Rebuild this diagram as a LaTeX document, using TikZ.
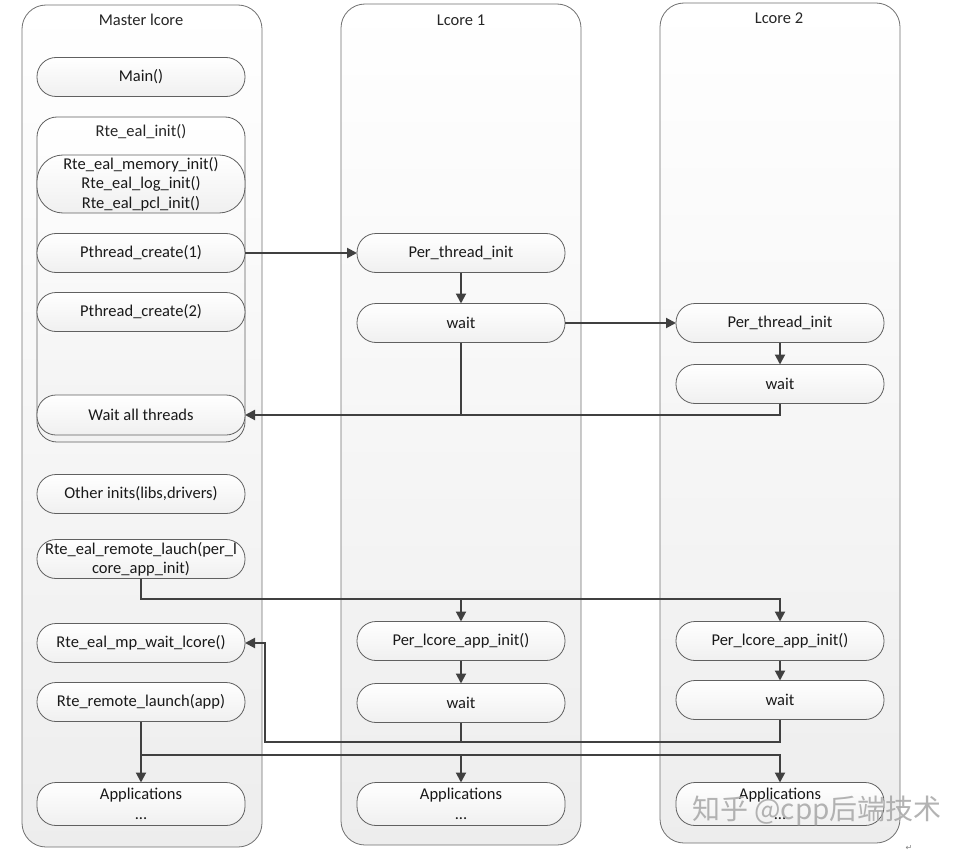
\documentclass[tikz,border=0pt]{standalone}
\usepackage{fontspec}
\setmainfont{Carlito}
\newfontfamily\cjkfont{Noto Sans CJK SC}
\newfontfamily\symfont{DejaVu Sans}
\usetikzlibrary{arrows.meta,calc}
\definecolor{lnc}{HTML}{404040}
\definecolor{brd}{HTML}{606060}
\begin{document}
\begin{tikzpicture}[x=1pt,y=-1pt,
  lane/.style={draw=brd!90,line width=0.8pt,rounded corners=24pt,top color=white,bottom color=black!7},
  lanetitle/.style={font=\fontsize{16.5}{19}\selectfont,text=black!85},
  pill/.style={draw=brd,line width=0.8pt,rectangle,rounded corners=19pt,minimum width=208pt,minimum height=39pt,
     inner sep=1pt,outer sep=0pt,top color=white,bottom color=black!6,align=center,
     font=\fontsize{16.5}{20.5}\selectfont,text=black!90},
  bigbox/.style={draw=brd,line width=0.8pt,rounded corners=20pt,top color=white,bottom color=black!5},
  conn/.style={draw=lnc,line width=2pt,-{Triangle[length=10pt,width=10pt]}},
  plain/.style={draw=lnc,line width=2pt}]
\useasboundingbox (0,0) rectangle (972,856);
\fill[white] (0,0) rectangle (972,856);
% lanes
\draw[lane] (22,5) rectangle (262,847);
\draw[lane] (341,4) rectangle (581,845);
\draw[lane] (660,3) rectangle (900,843);
\node[lanetitle] (tm) at (141,20) {Master lcore};
\node[lanetitle] (t1) at (461,20) {Lcore 1};
\node[lanetitle] (t2) at (779,18) {Lcore 2};
% master column
\node[pill] (main) at (141,77) {Main()};
\draw[bigbox] (37,117) rectangle (245,442);
\node[lanetitle] (rinit) at (141,132) {Rte\_eal\_init()};
\node[pill,minimum height=58pt,rounded corners=26pt,font=\fontsize{16.5}{19.5}\selectfont] (mem) at (141,184) {Rte\_eal\_memory\_init()\\Rte\_eal\_log\_init()\\Rte\_eal\_pcl\_init()};
\node[pill] (pc1) at (141,253) {Pthread\_create(1)};
\node[pill] (pc2) at (141,312) {Pthread\_create(2)};
\node[pill,minimum height=40pt] (wat) at (141,415) {Wait all threads};
\node[pill] (oth) at (141,494) {Other inits(libs,drivers)};
\node[pill,font=\fontsize{16.5}{19}\selectfont] (rl) at (141,559) {Rte\_eal\_remote\_lauch(per\_l\\core\_app\_init)};
\node[pill] (mpw) at (141,643) {Rte\_eal\_mp\_wait\_lcore()};
\node[pill] (rla) at (141,702) {Rte\_remote\_launch(app)};
\node[pill,minimum height=43pt] (app0) at (141,804) {Applications\\...};
% lcore 1
\node[pill] (pti1) at (461,253) {Per\_thread\_init};
\node[pill] (w1) at (461,323) {wait};
\node[pill] (pla1) at (461,641) {Per\_lcore\_app\_init()};
\node[pill] (w1b) at (461,703) {wait};
\node[pill,minimum height=43pt] (app1) at (461,804) {Applications\\...};
% lcore 2
\node[pill] (pti2) at (780,323) {Per\_thread\_init};
\node[pill] (w2) at (780,384) {wait};
\node[pill] (pla2) at (780,641) {Per\_lcore\_app\_init()};
\node[pill] (w2b) at (780,700) {wait};
\node[pill,minimum height=43pt] (app2) at (780,804) {Applications\\...};
% helper coordinates
\coordinate (ry) at (0,599);
\coordinate (wy) at (265,742);
\coordinate (ly) at (0,755);
% connectors
\draw[conn] (pc1.east) -- (pti1.west);
\draw[conn] (pti1.south) -- (w1.north);
\draw[conn] (w1.east) -- (pti2.west);
\draw[conn] (pti2.south) -- (w2.north);
\draw[conn] (w2.south) |- (wat.east);
\draw[plain] (w1.south) -- (w1.south |- wat.east);
\draw[conn] (rl.south) -- (rl.south |- ry) -| (pla2.north);
\draw[conn] (pla1.north |- ry) -- (pla1.north);
\draw[conn] (pla1.south) -- (w1b.north);
\draw[conn] (pla2.south) -- (w2b.north);
\draw[conn] (w2b.south) |- (wy) |- (mpw.east);
\draw[plain] (w1b.south) -- (w1b.south |- wy);
\draw[conn] (rla.south) -- (app0.north);
\draw[conn] (rla.south |- ly) -| (app2.north);
\draw[conn] (app1.north |- ly) -- (app1.north);
% watermark
\node[font=\cjkfont\fontsize{28}{30}\selectfont,text=black!35,opacity=0.85] (wm) at (817,811) {知乎 @cpp后端技术};
\node[font=\symfont\fontsize{8}{9}\selectfont,text=black!50] (ret) at (909,848) {↵};
\end{tikzpicture}
\end{document}
